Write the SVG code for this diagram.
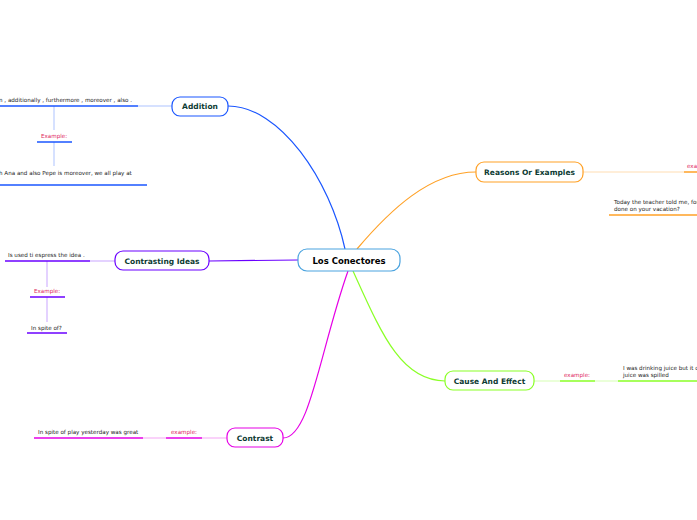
<svg xmlns="http://www.w3.org/2000/svg" width="697" height="520" viewBox="0 0 697 520">
<style>
text{font-family:"DejaVu Sans",Verdana,sans-serif}
.n{fill:#fff;stroke-width:1.2}
.t{font-size:7.5px;font-weight:bold;fill:#0d3b33;text-anchor:middle}
.s{font-size:5.6px;fill:#222}
.e{font-size:5.6px;fill:#e0245e}
.c{fill:none;stroke-width:1.2}
.u{stroke-width:1.5}
.f{stroke-width:1;opacity:.35}
</style>
<g id="connectors">
<path class="c" stroke="#1a56ff" d="M345,249 C330,180 280,106 228,106"/>
<path class="c" stroke="#ffa126" d="M357,249 C390,210 430,172 476,172"/>
<path class="c" stroke="#6a00ff" d="M298,260 L209,261"/>
<path class="c" stroke="#8aff26" d="M353,271 C380,330 400,381 445,381"/>
<path class="c" stroke="#e600e6" d="M348,271 C320,350 310,438 283,438"/>
</g>
<g id="center"><rect class="n" x="298" y="249" width="102" height="22" rx="9" stroke="#4aa3df"/><text class="t" x="349" y="263.5" style="font-size:8.5px;fill:#000">Los Conectores</text></g>
<g id="addition">
<rect class="n" x="172" y="97" width="56" height="19" rx="8" stroke="#1a56ff"/><text class="t" x="200" y="109">Addition</text>
<line class="f" stroke="#1a56ff" x1="138" y1="106" x2="172" y2="106"/>
<line class="u" stroke="#1a56ff" x1="0" y1="106" x2="138" y2="106"/>
<text class="s" x="-1" y="102">n , additionally , furthermore , moreover , also .</text>
<line class="f" stroke="#1a56ff" x1="54" y1="106" x2="54" y2="130"/>
<text class="e" x="41" y="138">Example:</text>
<line class="u" stroke="#1a56ff" x1="37" y1="142" x2="72" y2="142"/>
<line class="f" stroke="#1a56ff" x1="54" y1="142" x2="54" y2="166"/>
<text class="s" x="-1" y="175">h Ana and also Pepe is moreover, we all play at</text>
<line class="u" stroke="#1a56ff" x1="0" y1="185" x2="147" y2="185"/>
</g>
<g id="reasons">
<rect class="n" x="476" y="162" width="107" height="20" rx="8" stroke="#ffa126"/><text class="t" x="529.5" y="175">Reasons Or Examples</text>
<line class="f" stroke="#ffa126" x1="583" y1="172" x2="684" y2="172"/>
<text class="e" x="687" y="168">exa</text>
<line class="u" stroke="#ffa126" x1="684" y1="172" x2="697" y2="172"/>
<text class="s" x="614" y="204">Today the teacher told me, for</text>
<text class="s" x="614" y="211">done on your vacation?</text>
<line class="u" stroke="#ffa126" x1="609" y1="215" x2="697" y2="215"/>
</g>
<g id="contrasting">
<rect class="n" x="115" y="251" width="94" height="19" rx="8" stroke="#6a00ff"/><text class="t" x="162" y="263.5">Contrasting Ideas</text>
<line class="f" stroke="#6a00ff" x1="90" y1="261" x2="115" y2="261"/>
<text class="s" x="8" y="257">Is used ti espress the idea .</text>
<line class="u" stroke="#6a00ff" x1="5" y1="261" x2="90" y2="261"/>
<line class="f" stroke="#6a00ff" x1="47" y1="261" x2="47" y2="287"/>
<text class="e" x="34" y="293">Example:</text>
<line class="u" stroke="#6a00ff" x1="30" y1="297" x2="65" y2="297"/>
<line class="f" stroke="#6a00ff" x1="47" y1="297" x2="47" y2="322"/>
<text class="s" x="31" y="330">In spite of?</text>
<line class="u" stroke="#6a00ff" x1="27" y1="333" x2="67" y2="333"/>
</g>
<g id="cause">
<rect class="n" x="445" y="371" width="89" height="19" rx="8" stroke="#8aff26"/><text class="t" x="489.5" y="383.5">Cause And Effect</text>
<line class="f" stroke="#8aff26" x1="534" y1="381" x2="560" y2="381"/>
<text class="e" x="564" y="377">example:</text>
<line class="u" stroke="#8aff26" x1="560" y1="381" x2="595" y2="381"/>
<line class="f" stroke="#8aff26" x1="595" y1="381" x2="618" y2="381"/>
<text class="s" x="623" y="370">I was drinking juice but it c</text>
<text class="s" x="623" y="377">juice was spilled</text>
<line class="u" stroke="#8aff26" x1="618" y1="381" x2="697" y2="381"/>
</g>
<g id="contrast">
<rect class="n" x="227" y="428" width="56" height="19" rx="8" stroke="#e600e6"/><text class="t" x="255" y="440.5">Contrast</text>
<line class="f" stroke="#e600e6" x1="202" y1="438" x2="227" y2="438"/>
<text class="e" x="171" y="434">example:</text>
<line class="u" stroke="#e600e6" x1="166" y1="438" x2="202" y2="438"/>
<line class="f" stroke="#e600e6" x1="143" y1="438" x2="166" y2="438"/>
<text class="s" x="38" y="434">In spite of play yesterday was great</text>
<line class="u" stroke="#e600e6" x1="34" y1="438" x2="143" y2="438"/>
</g>
</svg>
